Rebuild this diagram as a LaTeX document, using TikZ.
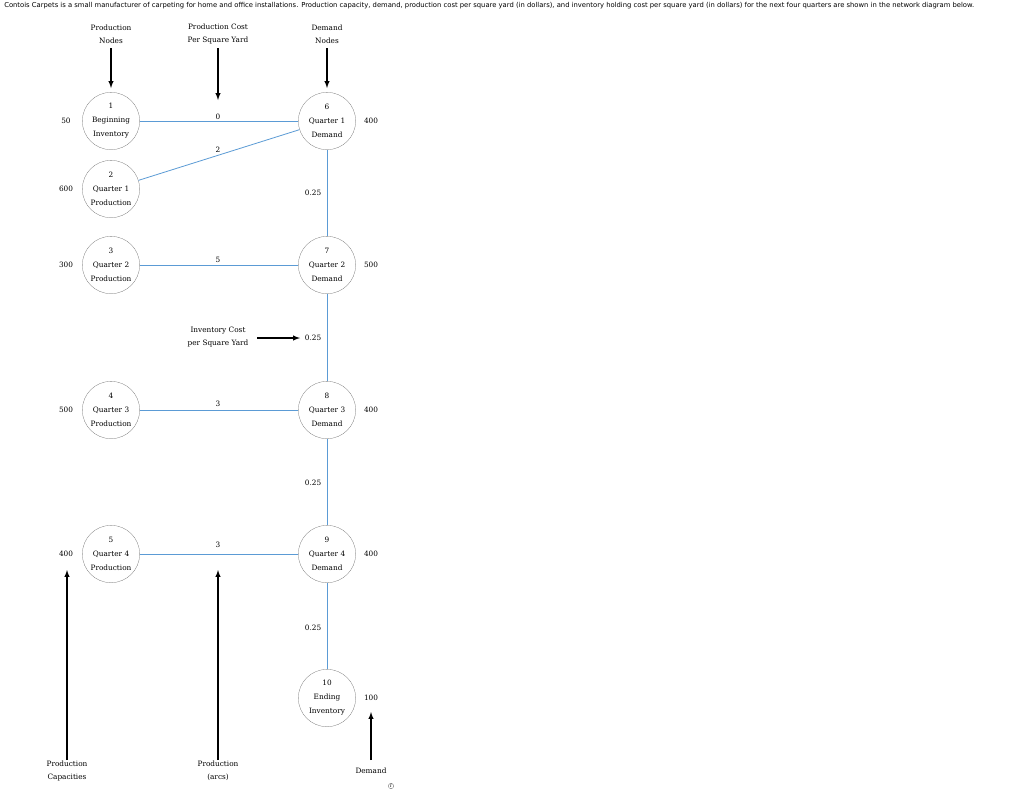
\documentclass[tikz,border=0pt]{standalone}
\usepackage{fontspec}
\setmainfont{DejaVu Serif}
\setsansfont{DejaVu Sans}
\definecolor{arcblue}{RGB}{91,155,213}
\begin{document}
\begin{tikzpicture}[x=0.75pt,y=-0.75pt,
  nd/.style={circle,draw=black!55,very thin,minimum size=43pt,inner sep=0pt,align=center,font=\fontsize{5.5}{10.5}\selectfont},
  lb/.style={font=\fontsize{5.5}{7}\selectfont,align=center,inner sep=1pt},
  arc/.style={draw=arcblue,line width=0.6pt},
  ar/.style={-latex,line width=0.8pt}]
\useasboundingbox[fill=white] (0,0) rectangle (1024,794);
\node[anchor=west,font=\sffamily\fontsize{5.1}{6}\selectfont,inner sep=0] (hdr) at (4,6) {Contois Carpets is a small manufacturer of carpeting for home and office installations. Production capacity, demand, production cost per square yard (in dollars), and inventory holding cost per square yard (in dollars) for the next four quarters are shown in the network diagram below.};
\node[nd] (n1) at (111,121) {1\\Beginning\\Inventory};
\node[nd] (n2) at (111,189) {2\\Quarter 1\\Production};
\node[nd] (n3) at (111,265) {3\\Quarter 2\\Production};
\node[nd] (n4) at (111,410) {4\\Quarter 3\\Production};
\node[nd] (n5) at (111,554) {5\\Quarter 4\\Production};
\node[nd] (n6) at (327,121) {6\\Quarter 1\\Demand};
\node[nd] (n7) at (327,265) {7\\Quarter 2\\Demand};
\node[nd] (n8) at (327,410) {8\\Quarter 3\\Demand};
\node[nd] (n9) at (327,554) {9\\Quarter 4\\Demand};
\node[nd] (n10) at (327,698) {10\\Ending\\Inventory};
\draw[arc] (n1) -- (n6);
\draw[arc] (n2) -- (n6);
\draw[arc] (n3) -- (n7);
\draw[arc] (n4) -- (n8);
\draw[arc] (n5) -- (n9);
\draw[arc] (n6) -- (n7);
\draw[arc] (n7) -- (n8);
\draw[arc] (n8) -- (n9);
\draw[arc] (n9) -- (n10);
\node[lb] (c0) at (218,117) {0};
\node[lb] (c2) at (218,150) {2};
\node[lb] (c5) at (218,260) {5};
\node[lb] (c3a) at (218,404) {3};
\node[lb] (c3b) at (218,545) {3};
\foreach \y/\n in {193/a,338/b,483/c,628/d} \node[lb] (h\n) at (313,\y) {0.25};
\foreach \y/\v/\n in {121/50/1,189/600/2,265/300/3,410/500/4,554/400/5} \node[lb] (s\n) at (66,\y) {\v};
\foreach \y/\v/\n in {121/400/6,265/500/7,410/400/8,554/400/9,698/100/10} \node[lb] (d\n) at (371,\y) {\v};
\node[lb] (t1) at (111,34) {Production\\[3pt]Nodes};
\node[lb] (t2) at (218,34) {Production Cost\\[3pt]Per Square Yard};
\node[lb] (t3) at (327,34) {Demand\\[3pt]Nodes};
\coordinate (a1) at (111,88); \coordinate (a2) at (218,100); \coordinate (a3) at (327,88);
\draw[ar] (111,48) -- (a1);
\draw[ar] (218,48) -- (a2);
\draw[ar] (327,48) -- (a3);
\node[lb] (inv) at (218,337) {Inventory Cost\\[3pt]per Square Yard};
\coordinate (ia) at (257,338); \coordinate (ib) at (300,338);
\draw[ar] (ia) -- (ib);
\node[lb] (pc) at (67,771) {Production\\[3pt]Capacities};
\node[lb] (pa) at (218,771) {Production\\[3pt](arcs)};
\node[lb] (dm) at (371,771) {Demand};
\coordinate (b1) at (67,760); \coordinate (b1e) at (67,570);
\coordinate (b2) at (218,760); \coordinate (b2e) at (218,570);
\coordinate (b3) at (371,760); \coordinate (b3e) at (371,712);
\draw[ar] (b1) -- (b1e);
\draw[ar] (b2) -- (b2e);
\draw[ar] (b3) -- (b3e);
\node[circle,draw=black!70,very thin,inner sep=0.3pt,font=\fontsize{4}{4}\selectfont\itshape] (info) at (391,786) {i};
\end{tikzpicture}
\end{document}
